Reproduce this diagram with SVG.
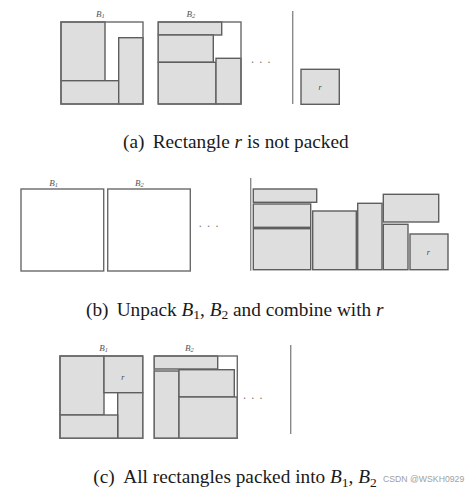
<svg xmlns="http://www.w3.org/2000/svg" width="474" height="498" viewBox="0 0 474 498">
<style>
.bin{fill:none;stroke:#6a6a6a;stroke-width:1.4}
.item{fill:#dedede;stroke:#5e5e5e;stroke-width:1.4}
.sep{stroke:#8a8a8a;stroke-width:1.4;fill:none}
.lbl{font-family:"Liberation Serif",serif;font-style:italic;font-size:9px;fill:#555}
.sub{font-size:6.5px}
.rl{font-family:"Liberation Serif",serif;font-style:italic;font-size:8px;fill:#444;text-anchor:middle}
.dots{font-family:"Liberation Serif",serif;font-size:12px;fill:#777;letter-spacing:4.3px}
.cap{font-family:"Liberation Serif",serif;font-size:19.3px;fill:#1a1a1a}
.it{font-style:italic}
.cs{font-size:13.5px}
.wm{font-family:"Liberation Sans",sans-serif;font-size:8.7px;fill:#a0a0a0}
</style>
<rect width="474" height="498" fill="#ffffff"/>

<!-- Panel (a) -->
<g id="a-B1">
<rect class="item" x="61" y="22" width="44" height="58.7"/>
<rect class="item" x="61" y="80.7" width="57.7" height="23.3"/>
<rect class="item" x="118.7" y="37.7" width="24.3" height="66.3"/>
<rect class="bin" x="61" y="22" width="82" height="82"/>
<text class="lbl" x="96" y="16.5">B<tspan class="sub" dy="1.5">1</tspan></text>
</g>
<g id="a-B2">
<rect class="item" x="158.3" y="22" width="63.4" height="13"/>
<rect class="item" x="158.3" y="35" width="55" height="27.3"/>
<rect class="item" x="158.3" y="62.3" width="57.7" height="41.7"/>
<rect class="item" x="216" y="58.3" width="25" height="45.7"/>
<rect class="bin" x="158.3" y="22" width="82.7" height="82"/>
<text class="lbl" x="186.5" y="16.5">B<tspan class="sub" dy="1.5">2</tspan></text>
</g>
<text class="dots" x="250.5" y="66">···</text>
<g id="a-r">
<rect class="item" x="301" y="69.3" width="38.3" height="35"/>
<text class="rl" x="320" y="90">r</text>
</g>

<!-- Panel (b) -->
<g id="b-B1">
<rect class="bin" x="21" y="189" width="82.7" height="82"/>
<text class="lbl" x="49.3" y="185.5">B<tspan class="sub" dy="1.5">1</tspan></text>
</g>
<g id="b-B2">
<rect class="bin" x="107.7" y="189" width="82.6" height="82"/>
<text class="lbl" x="135" y="185.5">B<tspan class="sub" dy="1.5">2</tspan></text>
</g>
<text class="dots" x="198.3" y="230">···</text>
<g id="b-items">
<rect class="item" x="253.3" y="189" width="63.4" height="13.3"/>
<rect class="item" x="253.3" y="204" width="57.4" height="23.3"/>
<rect class="item" x="253.3" y="228.7" width="57.4" height="41"/>
<rect class="item" x="312.7" y="211" width="43.6" height="58.7"/>
<rect class="item" x="357.7" y="203.3" width="24.3" height="66.4"/>
<rect class="item" x="383.3" y="194.3" width="55.4" height="27.7"/>
<rect class="item" x="383.3" y="224.3" width="24.7" height="45.4"/>
<rect class="item" x="410" y="234" width="38" height="35.7"/>
<text class="rl" x="428.3" y="254.5">r</text>
</g>

<!-- Panel (c) -->
<g id="c-B1">
<rect class="item" x="60" y="356" width="44" height="59"/>
<rect class="item" x="104" y="356" width="38.7" height="36.7"/>
<rect class="item" x="117.7" y="392.7" width="25" height="45.6"/>
<rect class="item" x="60" y="415" width="57.7" height="23.3"/>
<rect class="bin" x="60" y="356" width="82.7" height="82.3"/>
<text class="rl" x="122.7" y="380">r</text>
<text class="lbl" x="99.3" y="350.5">B<tspan class="sub" dy="1.5">1</tspan></text>
</g>
<g id="c-B2">
<rect class="item" x="154.3" y="356" width="63.4" height="13"/>
<rect class="item" x="154.3" y="371" width="24.7" height="67.3"/>
<rect class="item" x="179" y="369.7" width="55.3" height="27.3"/>
<rect class="item" x="179" y="397" width="58.3" height="41.3"/>
<rect class="bin" x="154.3" y="356" width="83" height="82.3"/>
<text class="lbl" x="185" y="350.5">B<tspan class="sub" dy="1.5">2</tspan></text>
</g>
<text class="dots" x="242.5" y="402">···</text>

<g id="dividers">
<line class="sep" x1="292.7" y1="11" x2="292.7" y2="104"/>
<line class="sep" x1="250.7" y1="178" x2="250.7" y2="270.7"/>
<line class="sep" x1="290.7" y1="345" x2="290.7" y2="434"/>
</g>

<g id="captions">
<text class="cap" x="123" y="148">(a)</text>
<text class="cap" x="152.7" y="148">Rectangle <tspan class="it">r</tspan> is not packed</text>
<text class="cap" x="86" y="315.5">(b)</text>
<text class="cap" x="116.7" y="315.5">Unpack <tspan class="it">B</tspan><tspan class="cs" dy="3.5">1</tspan><tspan dy="-3.5">, </tspan><tspan class="it">B</tspan><tspan class="cs" dy="3.5">2</tspan><tspan dy="-3.5"> and combine with </tspan><tspan class="it">r</tspan></text>
<text class="cap" x="93.3" y="483.3">(c)</text>
<text class="cap" x="123.3" y="483.3">All rectangles packed into <tspan class="it">B</tspan><tspan class="cs" dy="3.5">1</tspan><tspan dy="-3.5">, </tspan><tspan class="it">B</tspan><tspan class="cs" dy="3.5">2</tspan></text>
<text class="wm" x="383" y="481.7">CSDN @WSKH0929</text>
</g>
</svg>
